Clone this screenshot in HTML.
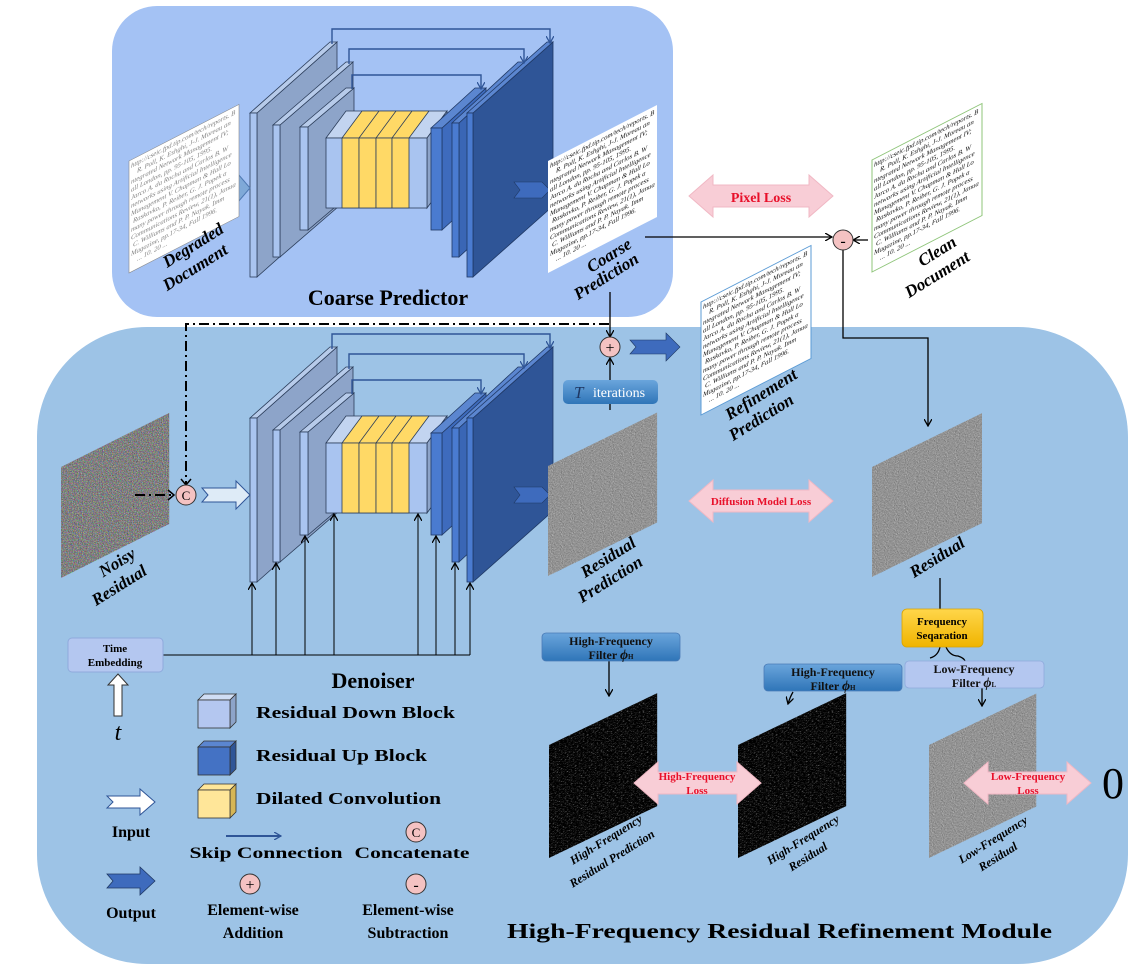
<!DOCTYPE html>
<html><head><meta charset="utf-8"><style>
html,body{margin:0;padding:0;background:#fff;}
svg{display:block;}
text{font-family:"Liberation Serif",serif;}
</style></head><body>
<svg width="1140" height="970" viewBox="0 0 1140 970" xmlns="http://www.w3.org/2000/svg">
<defs>
<filter id="noiseC" x="0" y="0" width="100%" height="100%" color-interpolation-filters="sRGB">
<feTurbulence type="fractalNoise" baseFrequency="1.2" numOctaves="1" seed="3"/>
<feColorMatrix type="matrix" values="1.3 0 0 0 -0.15  0 1.3 0 0 -0.15  0 0 1.3 0 -0.15  0 0 0 0 1"/>
</filter>
<filter id="noiseG" x="0" y="0" width="100%" height="100%" color-interpolation-filters="sRGB">
<feTurbulence type="fractalNoise" baseFrequency="0.9 1.6" numOctaves="1" seed="5"/>
<feColorMatrix type="matrix" values="0.35 0.35 0.35 0 0.05  0.35 0.35 0.35 0 0.05  0.35 0.35 0.35 0 0.05  0 0 0 0 1"/>
</filter>
<filter id="noiseB" x="0" y="0" width="100%" height="100%" color-interpolation-filters="sRGB">
<feTurbulence type="fractalNoise" baseFrequency="0.5 1.8" numOctaves="1" seed="7"/>
<feColorMatrix type="matrix" values="1.6 0 0 0 -0.8  1.6 0 0 0 -0.8  1.6 0 0 0 -0.8  0 0 0 0 1"/>
</filter>
<linearGradient id="bf" x1="0" y1="0" x2="0" y2="1"><stop offset="0" stop-color="#6aa5dc"/><stop offset="1" stop-color="#2f75b8"/></linearGradient>
<linearGradient id="yf" x1="0" y1="0" x2="0" y2="1"><stop offset="0" stop-color="#ffd64a"/><stop offset="1" stop-color="#f0b400"/></linearGradient>
<marker id="ah" markerWidth="8" markerHeight="8" refX="7" refY="4" orient="auto" markerUnits="userSpaceOnUse"><path d="M0,0 L7,4 L0,8" fill="none" stroke="#000" stroke-width="1.3"/></marker>
<marker id="ahb" markerWidth="8" markerHeight="8" refX="7" refY="4" orient="auto" markerUnits="userSpaceOnUse"><path d="M0,0 L7,4 L0,8" fill="none" stroke="#2f5597" stroke-width="1.3"/></marker>
<g id="doctxt" font-family="Liberation Serif,serif" font-style="italic" font-size="6.8" fill="#111">
<text x="2" y="8">http://cseic.fpd.tip.com/tech/reports. B</text>
<text x="8" y="16">R. Poll, K. Eshghi, J-J. Moreau an</text>
<text x="2" y="24">ntegrated Network Management IV;</text>
<text x="2" y="32">all London, pp. 95-105, 1995.</text>
<text x="2" y="40">Jarco A. da Rocha and Carlos B. W</text>
<text x="2" y="48">networks using Artificial Intelligence</text>
<text x="2" y="56">Management V. Chapman &amp; Hall Lo</text>
<text x="4" y="64">Raskavko, P. Reiber, G. J. Popek a</text>
<text x="2" y="72">many power through remote process</text>
<text x="2" y="80">Communications Review, 21(1), Janua</text>
<text x="4" y="88">C. Williams and P. P. Nayak. Imm</text>
<text x="2" y="96">Magazine, pp.17-34, Fall 1996.</text>
<text x="8" y="104">... 10. 20 ...</text>
</g>
<clipPath id="dclip"><rect x="0" y="0" width="109" height="112"/></clipPath>
<g id="unet">
<polygon points="257,418 337,347 337,511 257,582" fill="#8da4c9" stroke="#2b3d5a" stroke-width="0.8"/>
<polygon points="250,418 330,347 337,347 257,418" fill="#b7cbea" stroke="#2b3d5a" stroke-width="0.8"/>
<rect x="250" y="418" width="7" height="164" fill="#a9c4f0" stroke="#2b3d5a" stroke-width="0.8"/>
<polygon points="280,430 353,367 353,499 280,562" fill="#8da4c9" stroke="#2b3d5a" stroke-width="0.8"/>
<polygon points="273,430 346,367 353,367 280,430" fill="#b7cbea" stroke="#2b3d5a" stroke-width="0.8"/>
<rect x="273" y="430" width="7" height="132" fill="#a9c4f0" stroke="#2b3d5a" stroke-width="0.8"/>
<polygon points="308,432 354,393 354,496 308,535" fill="#8da4c9" stroke="#2b3d5a" stroke-width="0.8"/>
<polygon points="300,432 346,393 354,393 308,432" fill="#b7cbea" stroke="#2b3d5a" stroke-width="0.8"/>
<rect x="300" y="432" width="8" height="103" fill="#a9c4f0" stroke="#2b3d5a" stroke-width="0.8"/>
<polygon points="326,443 346,416 447,416 427,443" fill="#c2d4f0" stroke="#2b3d5a" stroke-width="0.8"/>
<polygon points="427,443 447,416 447,486 427,513" fill="#8da4c9" stroke="#2b3d5a" stroke-width="0.8"/>
<rect x="326" y="443" width="101" height="70" fill="#a9c4f0" stroke="#2b3d5a" stroke-width="0.8"/>
<polygon points="342,443 362,416 429,416 409,443" fill="#ffd966" stroke="#2b3d5a" stroke-width="0.8"/>
<path d="M359,443 L379,416 M376,443 L396,416 M392,443 L412,416" stroke="#2b3d5a" stroke-width="0.8"/>
<rect x="342" y="443" width="17" height="70" fill="#ffd966" stroke="#2b3d5a" stroke-width="0.8"/>
<rect x="359" y="443" width="17" height="70" fill="#ffd966" stroke="#2b3d5a" stroke-width="0.8"/>
<rect x="376" y="443" width="16" height="70" fill="#ffd966" stroke="#2b3d5a" stroke-width="0.8"/>
<rect x="392" y="443" width="17" height="70" fill="#ffd966" stroke="#2b3d5a" stroke-width="0.8"/>
<polygon points="442,433 486,393 486,495 442,535" fill="#3e6bbd" stroke="#1f3864" stroke-width="0.8"/>
<polygon points="431,433 475,393 486,393 442,433" fill="#5b86d0" stroke="#1f3864" stroke-width="0.8"/>
<rect x="431" y="433" width="11" height="102" fill="#4a7bd0" stroke="#1f3864" stroke-width="0.8"/>
<polygon points="459,428 525,367 525,501 459,562" fill="#3a66b5" stroke="#1f3864" stroke-width="0.8"/>
<polygon points="452,428 518,367 525,367 459,428" fill="#5b86d0" stroke="#1f3864" stroke-width="0.8"/>
<rect x="452" y="428" width="7" height="134" fill="#4a7bd0" stroke="#1f3864" stroke-width="0.8"/>
<polygon points="473,418 553,347 553,511 473,582" fill="#2f5597" stroke="#1f3864" stroke-width="0.8"/>
<polygon points="467,418 547,347 553,347 473,418" fill="#5b86d0" stroke="#1f3864" stroke-width="0.8"/>
<rect x="467" y="418" width="6" height="164" fill="#4a7bd0" stroke="#1f3864" stroke-width="0.8"/>
<polyline points="332,349 332,334 550,334 550,348" fill="none" stroke="#2f5597" stroke-width="1.4" marker-end="url(#ahb)"/>
<polyline points="349,369 349,354 524,354 524,368" fill="none" stroke="#2f5597" stroke-width="1.4" marker-end="url(#ahb)"/>
<polyline points="352,394 352,380 481,380 481,394" fill="none" stroke="#2f5597" stroke-width="1.4" marker-end="url(#ahb)"/>
<polygon points="514,487 542,487 550,495 542,503 514,503 520,495" fill="#3e6bbd" stroke="#1f3864" stroke-width="0.6"/>
</g>
</defs>

<rect x="37" y="327" width="1091" height="637" rx="110" ry="110" fill="#9dc3e6"/>
<rect x="112" y="6" width="561" height="311" rx="45" ry="45" fill="#a4c2f4"/>

<use href="#unet" transform="translate(0,-305)"/>
<use href="#unet"/>
<polygon points="203,180 238,180 238,174 250,188 238,202 238,196 203,196 209,188" fill="#7fa9d8" stroke="#4f79b3" stroke-width="1"/>
<polygon points="202,488 236,488 236,481 250,495 236,509 236,502 202,502 208,495" fill="#deebf7" stroke="#2f5597" stroke-width="1"/>

<g stroke="#000" stroke-width="1" fill="none">
<polyline points="163,655 470,655"/>
<line x1="252" y1="655" x2="252" y2="583" marker-end="url(#ah)"/>
<line x1="276" y1="655" x2="276" y2="563" marker-end="url(#ah)"/>
<line x1="305" y1="655" x2="305" y2="536" marker-end="url(#ah)"/>
<line x1="334" y1="655" x2="334" y2="514" marker-end="url(#ah)"/>
<line x1="418" y1="655" x2="418" y2="514" marker-end="url(#ah)"/>
<line x1="436" y1="655" x2="436" y2="536" marker-end="url(#ah)"/>
<line x1="455" y1="655" x2="455" y2="563" marker-end="url(#ah)"/>
<line x1="470" y1="655" x2="470" y2="583" marker-end="url(#ah)"/>
</g>

<g transform="matrix(1,-0.514,0,1,129,161)"><rect width="110" height="112" fill="#fff" stroke="#888" stroke-width="0.6"/><g clip-path="url(#dclip)"><use href="#doctxt" opacity="0.55"/></g></g>
<g transform="matrix(1,-0.514,0,1,548,161)"><rect width="109" height="112" fill="#fff"/><g clip-path="url(#dclip)"><use href="#doctxt"/></g></g>
<g transform="matrix(1,-0.514,0,1,872,160)"><rect width="110" height="112" fill="#fff" stroke="#8fc57a" stroke-width="1"/><g clip-path="url(#dclip)"><use href="#doctxt"/></g></g>
<g transform="matrix(1,-0.514,0,1,701,302)"><rect width="110" height="113" fill="#fff" stroke="#5b9bd5" stroke-width="1"/><g clip-path="url(#dclip)"><use href="#doctxt"/></g></g>
<g transform="matrix(1,-0.5,0,1,61,467)"><rect width="108" height="111" fill="#888" filter="url(#noiseC)"/></g>
<g transform="matrix(1,-0.49,0,1,548,466)"><rect width="109" height="110" fill="#999" filter="url(#noiseG)"/></g>
<g transform="matrix(1,-0.49,0,1,872,467)"><rect width="110" height="110" fill="#999" filter="url(#noiseG)"/></g>
<g transform="matrix(1,-0.48,0,1,549,745)"><rect width="108" height="113" fill="#111" filter="url(#noiseB)"/></g>
<g transform="matrix(1,-0.48,0,1,738,745)"><rect width="108" height="113" fill="#111" filter="url(#noiseB)"/></g>
<g transform="matrix(1,-0.48,0,1,929,745)"><rect width="107" height="113" fill="#999" filter="url(#noiseG)"/></g>

<g stroke="#000" stroke-width="1.3" fill="none">
<line x1="645" y1="237" x2="832" y2="237" marker-end="url(#ah)"/>
<line x1="868" y1="240" x2="853" y2="240" marker-end="url(#ah)"/>
<polyline points="843,250 843,338 928,338 928,426" marker-end="url(#ah)"/>
<line x1="610" y1="292" x2="610" y2="337" marker-end="url(#ah)"/>
<line x1="610" y1="410" x2="610" y2="358" marker-end="url(#ah)"/>
<line x1="940" y1="578" x2="940" y2="609"/>
<line x1="609" y1="661" x2="609" y2="696" marker-end="url(#ah)"/>
<line x1="982" y1="688" x2="982" y2="706" marker-end="url(#ah)"/>
<path d="M940,647 Q938,656 930,658 M946,647 Q950,656 958,656 Q964,658 965,661"/>
<path d="M793,692 Q790,697 788,704" marker-end="url(#ah)"/>
</g>
<g stroke="#000" stroke-width="2" fill="none" stroke-dasharray="10,4,2,4">
<polyline points="609,324 186,324 186,484"/>
<line x1="135" y1="495" x2="172" y2="495"/>
</g>
<path d="M181,479 L186,485 L191,479" fill="none" stroke="#000" stroke-width="1.5"/>
<path d="M168,490 L174,495 L168,500" fill="none" stroke="#000" stroke-width="1.5"/>

<g stroke="#333" stroke-width="1" fill="#f4c2c2">
<circle cx="843" cy="240" r="10"/>
<circle cx="610" cy="347" r="10"/>
<circle cx="186" cy="495" r="10"/>
<circle cx="416" cy="832" r="10"/>
<circle cx="250" cy="884" r="10"/>
<circle cx="416" cy="884" r="10"/>
</g>
<g font-family="Liberation Sans,sans-serif" font-size="16" text-anchor="middle" fill="#000">
<text x="843" y="246">-</text>
<text x="610" y="353">+</text>
<text x="250" y="890">+</text>
<text x="416" y="890">-</text>
</g>
<text x="186" y="500" font-size="13" text-anchor="middle">C</text>
<text x="416" y="837" font-size="13" text-anchor="middle">C</text>

<polygon points="630,340 666,340 666,333 680,347 666,361 666,354 630,354 636,347" fill="#3e6bbd" stroke="#1f3864" stroke-width="0.6"/>
<rect x="563" y="380" width="95" height="24" rx="5" fill="url(#bf)"/>
<text x="574" y="398" font-size="17" font-style="italic" fill="#1f3864">T</text>
<text x="593" y="397" font-size="14" fill="#fff">iterations</text>

<g fill="#f8cdd6" stroke="#f0b8c4" stroke-width="1">
<polygon points="689,196 713,175 713,185 809,185 809,175 833,196 809,217 809,207 713,207 713,217"/>
<polygon points="689,501 713,480 713,490 809,490 809,480 833,501 809,522 809,512 713,512 713,522"/>
<polygon points="634,783 658,762 658,772 737,772 737,762 761,783 737,804 737,794 658,794 658,804"/>
<polygon points="964,783 988,762 988,772 1067,772 1067,762 1091,783 1067,804 1067,794 988,794 988,804"/>
</g>
<g fill="#e8102a" font-weight="bold" text-anchor="middle">
<text x="761" y="202" font-size="14">Pixel Loss</text>
<text x="761" y="505" font-size="11">Diffusion Model Loss</text>
<text x="697" y="780" font-size="11">High-Frequency</text>
<text x="697" y="794" font-size="11">Loss</text>
<text x="1028" y="780" font-size="11">Low-Frequency</text>
<text x="1028" y="794" font-size="11">Loss</text>
</g>
<text x="1113" y="798" font-size="44" text-anchor="middle">0</text>

<rect x="542" y="633" width="138" height="28" rx="4" fill="url(#bf)" stroke="#4a7bb7" stroke-width="0.8"/>
<text x="611" y="645" font-size="12" font-weight="bold" text-anchor="middle" fill="#111">High-Frequency</text>
<text x="611" y="659" font-size="12" font-weight="bold" text-anchor="middle" fill="#111">Filter <tspan font-style="italic" font-size="14">ϕ</tspan><tspan font-size="7">H</tspan></text>
<rect x="764" y="664" width="138" height="27" rx="4" fill="url(#bf)" stroke="#4a7bb7" stroke-width="0.8"/>
<text x="833" y="676" font-size="12" font-weight="bold" text-anchor="middle" fill="#111">High-Frequency</text>
<text x="833" y="690" font-size="12" font-weight="bold" text-anchor="middle" fill="#111">Filter <tspan font-style="italic" font-size="14">ϕ</tspan><tspan font-size="7">H</tspan></text>
<rect x="905" y="661" width="139" height="27" rx="4" fill="#b4c7f0" stroke="#8faadc" stroke-width="0.8"/>
<text x="974" y="673" font-size="12" font-weight="bold" text-anchor="middle" fill="#111">Low-Frequency</text>
<text x="974" y="687" font-size="12" font-weight="bold" text-anchor="middle" fill="#111">Filter <tspan font-style="italic" font-size="14">ϕ</tspan><tspan font-size="7">L</tspan></text>
<rect x="902" y="609" width="81" height="38" rx="5" fill="url(#yf)" stroke="#d9a300" stroke-width="0.8"/>
<text x="942" y="625" font-size="11" font-weight="bold" text-anchor="middle">Frequency</text>
<text x="942" y="639" font-size="11" font-weight="bold" text-anchor="middle">Seqaration</text>

<rect x="68" y="638" width="95" height="34" rx="4" fill="#b4c7f0" stroke="#8faadc"/>
<text x="115" y="652" font-size="11" font-weight="bold" text-anchor="middle">Time</text>
<text x="115" y="666" font-size="11" font-weight="bold" text-anchor="middle">Embedding</text>
<polygon points="118,674 128,685 122,685 122,716 114,716 114,685 108,685" fill="#fff" stroke="#333" stroke-width="1"/>
<text x="118" y="740" font-size="24" font-style="italic" text-anchor="middle">t</text>

<g font-weight="bold" font-style="italic" text-anchor="middle" font-size="17">
<text transform="translate(196,250) rotate(-32)">Degraded</text>
<text transform="translate(198,272) rotate(-32)">Document</text>
<text transform="translate(612,260) rotate(-32)">Coarse</text>
<text transform="translate(609,281) rotate(-32)">Prediction</text>
<text transform="translate(940,256) rotate(-32)">Clean</text>
<text transform="translate(940,279) rotate(-32)">Document</text>
<text transform="translate(764,399) rotate(-32)">Refinement</text>
<text transform="translate(764,422) rotate(-32)">Prediction</text>
<text transform="translate(611,562) rotate(-32)">Residual</text>
<text transform="translate(613,584) rotate(-32)">Prediction</text>
<text transform="translate(940,562) rotate(-32)">Residual</text>
<text transform="translate(120,567) rotate(-32)">Noisy</text>
<text transform="translate(122,590) rotate(-32)">Residual</text>
</g>
<g font-weight="bold" font-style="italic" text-anchor="middle" font-size="12">
<text transform="translate(608,843) rotate(-32)">High-Frequency</text>
<text transform="translate(614,862) rotate(-32)">Residual Prediction</text>
<text transform="translate(805,843) rotate(-32)">High-Frequency</text>
<text transform="translate(810,860) rotate(-32)">Residual</text>
<text transform="translate(995,843) rotate(-32)">Low-Frequency</text>
<text transform="translate(1000,860) rotate(-32)">Residual</text>
</g>

<text x="388" y="305" font-size="22" font-weight="bold" text-anchor="middle">Coarse Predictor</text>
<text x="373" y="688" font-size="22" font-weight="bold" text-anchor="middle">Denoiser</text>
<text x="507" y="938" font-size="21" font-weight="bold" textLength="545" lengthAdjust="spacingAndGlyphs">High-Frequency Residual Refinement Module</text>

<g stroke="#333" stroke-width="0.8">
<polygon points="198,700 204,694 236,694 230,700" fill="#d0def5"/><polygon points="230,700 236,694 236,722 230,728" fill="#8da4c9"/><rect x="198" y="700" width="32" height="28" fill="#b4c7f0"/>
<polygon points="198,747 204,741 236,741 230,747" fill="#5b86d0"/><polygon points="230,747 236,741 236,769 230,775" fill="#2f5597"/><rect x="198" y="747" width="32" height="28" fill="#4472c4"/>
<polygon points="198,790 204,784 236,784 230,790" fill="#ffe699"/><polygon points="230,790 236,784 236,812 230,818" fill="#d6b656"/><rect x="198" y="790" width="32" height="28" fill="#ffe699"/>
</g>
<g font-size="17" font-weight="bold">
<text x="256" y="718" textLength="199" lengthAdjust="spacingAndGlyphs">Residual Down Block</text>
<text x="256" y="761" textLength="171" lengthAdjust="spacingAndGlyphs">Residual Up Block</text>
<text x="256" y="804" textLength="185" lengthAdjust="spacingAndGlyphs">Dilated Convolution</text>
</g>
<polygon points="107,796 140,796 140,789 155,802 140,815 140,808 107,808 113,802" fill="#fff" stroke="#2f5597" stroke-width="1"/>
<polygon points="107,874 140,874 140,867 155,881 140,895 140,888 107,888 113,881" fill="#3e6bbd" stroke="#1f3864" stroke-width="0.8"/>
<line x1="226" y1="836" x2="281" y2="836" stroke="#2f5597" stroke-width="2" marker-end="url(#ahb)"/>
<g font-size="16" font-weight="bold" text-anchor="middle">
<text x="131" y="837">Input</text>
<text x="131" y="918">Output</text>
<text x="266" y="858" textLength="153" lengthAdjust="spacingAndGlyphs">Skip Connection</text>
<text x="412" y="858" textLength="115" lengthAdjust="spacingAndGlyphs">Concatenate</text>
<text x="253" y="915">Element-wise</text>
<text x="253" y="938">Addition</text>
<text x="408" y="915">Element-wise</text>
<text x="408" y="938">Subtraction</text>
</g>
</svg>
</body></html>
